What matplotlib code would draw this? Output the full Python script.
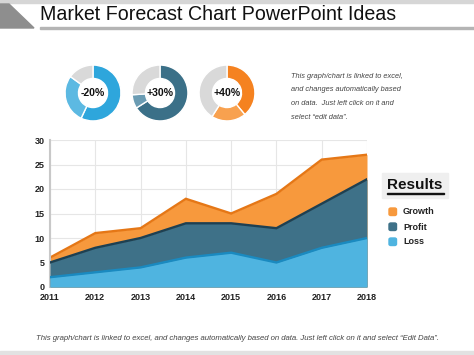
import matplotlib
matplotlib.use("Agg")
import matplotlib.pyplot as plt
from matplotlib.patches import Polygon, Rectangle, FancyBboxPatch

plt.rcParams["font.family"] = ["Liberation Sans", "DejaVu Sans"]

# Area chart data (each series drawn from zero, overlapping)
years = [2011, 2012, 2013, 2014, 2015, 2016, 2017, 2018]
growth = [6, 11, 12, 18, 15, 19, 26, 27]
profit = [5, 8, 10, 13, 13, 12, 17, 22]
loss = [2, 3, 4, 6, 7, 5, 8, 10]
series_names = ["Growth", "Profit", "Loss"]
fill_colors = ["#f7993d", "#3e7188", "#4fb4e0"]
edge_colors = ["#e57716", "#1d4052", "#1a8ac0"]
y_ticks = [0, 5, 10, 15, 20, 25, 30]

# Donut data
donut_labels = ["-20%", "+30%", "+40%"]
donut_values = [[57, 28, 15], [66, 8, 26], [39, 20, 41]]
donut_colors = [["#2ea6dc", "#5cb9e2", "#d9d9d9"],
                ["#3b7088", "#6b9cb3", "#d9d9d9"],
                ["#f58220", "#f8a14f", "#d9d9d9"]]

title = "Market Forecast Chart PowerPoint Ideas"
note_lines = ["This graph/chart is linked to excel,",
              "and changes automatically based",
              "on data.  Just left click on it and",
              "select \u201cedit data\u201d."]
footer = ("This graph/chart is linked to excel, and changes automatically based "
          "on data. Just left click on it and select \u201cEdit Data\u201d.")

W, H = 474, 355
fig = plt.figure(figsize=(W / 100, H / 100), dpi=100)


def px(x, y):
    return x / W, 1 - y / H


# header decoration
fig.patches.append(Rectangle(px(0, 3), 1, 3 / H, transform=fig.transFigure,
                             color="#d6d6d6", zorder=0))
tri = [px(0, 4), px(9, 4), px(34, 28), px(0, 28)]
fig.patches.append(Polygon(tri, closed=True, transform=fig.transFigure,
                           color="#8e8e8e", zorder=1))
fig.patches.append(Rectangle(px(40, 29), (W - 40) / W, 2 / H, transform=fig.transFigure,
                             color="#b4b4b4", zorder=1))
fig.text(*px(40, 15), title, fontsize=14.1, va="center", ha="left", color="#111111")

# footer band
fig.patches.append(Rectangle((0, 0), 1, 4 / H, transform=fig.transFigure,
                             color="#e2e2e2", zorder=0))
fig.text(*px(237, 339), footer, fontsize=5.6, style="italic", ha="center",
         va="center", color="#444444")

# donuts
centers = [93, 160, 227]
for cx, vals, cols, lab in zip(centers, donut_values, donut_colors, donut_labels):
    r = 28.5
    dax = fig.add_axes([(cx - r) / W, 1 - (93 + r) / H, 2 * r / W, 2 * r / H])
    dax.pie(vals, colors=cols, startangle=90, counterclock=False,
            wedgeprops=dict(width=0.48, edgecolor="white", linewidth=1.0))
    dax.set_xlim(-1.02, 1.02)
    dax.set_ylim(-1.02, 1.02)
    dax.set_aspect("equal")
    dax.text(0, 0, lab, ha="center", va="center", fontsize=7.6,
             fontweight="bold", color="#111111")

# note text
for i, line in enumerate(note_lines):
    fig.text(*px(291, 76 + i * 13.7), line, fontsize=5.3, style="italic",
             ha="left", va="center", color="#444444")

# area chart
ax = fig.add_axes([50 / W, 1 - 287 / H, 317 / W, 147 / H])
for vals, fc, ec, z in zip([growth, profit, loss], fill_colors, edge_colors, [2, 3, 4]):
    ax.fill_between(years, 0, vals, color=fc, zorder=z, linewidth=0)
    ax.plot(years, vals, color=ec, linewidth=1.7, zorder=z + 0.5, solid_joinstyle="miter")

ax.set_xlim(years[0], years[-1])
ax.set_ylim(0, 30)
ax.set_yticks(y_ticks)
ax.set_xticks(years)
ax.grid(True, color="#e6e6e6", linewidth=0.8, zorder=0)
ax.set_axisbelow(True)
for s in ["top", "right", "bottom"]:
    ax.spines[s].set_visible(False)
ax.spines["left"].set_color("#c8c8c8")
ax.spines["left"].set_linewidth(1.5)
ax.tick_params(length=0, labelsize=6.5, colors="#222222", pad=4)
for lbl in ax.get_xticklabels() + ax.get_yticklabels():
    lbl.set_fontweight("bold")

# legend panel
fig.patches.append(Rectangle(px(382, 198), 66 / W, 25 / H, transform=fig.transFigure,
                             color="#efefef", zorder=0))
fig.text(*px(415, 185), "Results", fontsize=11, fontweight="bold", ha="center",
         va="center", color="#111111")
fig.patches.append(Rectangle(px(387, 194), 57 / W, 1.0 / H, transform=fig.transFigure,
                             color="#111111", zorder=2))
for i, (name, fc) in enumerate(zip(series_names, fill_colors)):
    y = 212 + i * 15
    fig.patches.append(FancyBboxPatch(px(389, y + 3.5), 7.5 / W, 7.5 / H,
                                      boxstyle="round,pad=0,rounding_size=0.004",
                                      transform=fig.transFigure, color=fc, zorder=2))
    fig.text(*px(403, y), name, fontsize=6.5, fontweight="bold", ha="left",
             va="center", color="#222222")

fig.savefig("out.png", dpi=100)
